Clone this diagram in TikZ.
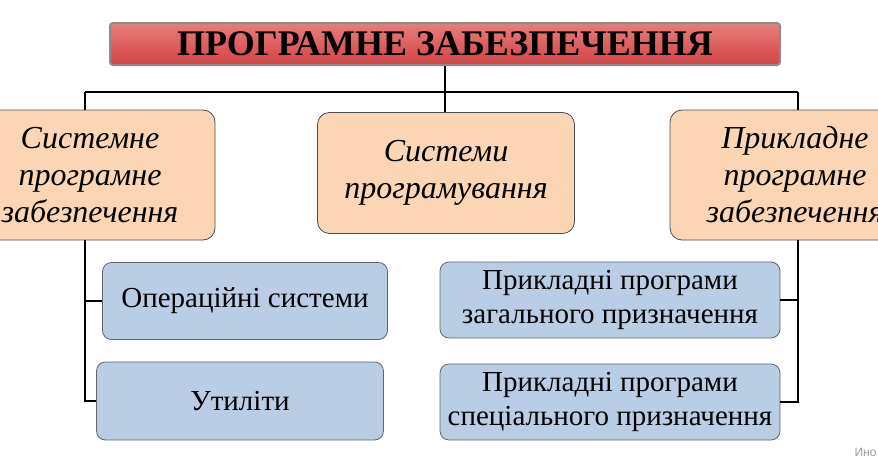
\documentclass[tikz,border=0pt]{standalone}
\usepackage{fontspec}
\setmainfont{Liberation Serif}
\newfontfamily\marksans{Liberation Sans}
\usetikzlibrary{positioning}
\definecolor{peach}{RGB}{252,213,181}
\definecolor{paleblue}{RGB}{185,205,229}
\definecolor{titlered}{RGB}{222,70,70}
\tikzset{
  topbox/.style={draw=black!70, thick, fill=peach, rounded corners=12pt, align=center,
    font=\fontsize{32}{37}\selectfont\itshape},
  subbox/.style={draw=black!60, thick, fill=paleblue, rounded corners=9pt, align=center,
    font=\fontsize{29}{34}\selectfont},
  link/.style={line width=2.2pt, black}
}
\begin{document}
\begin{tikzpicture}[x=1pt,y=-1pt]
\useasboundingbox (0,0) rectangle (878,461);
%title
\node[draw=black!45, line width=2pt, top color=titlered!70, bottom color=titlered!95!black,
  minimum width=670pt, minimum height=42pt, rounded corners=3pt,
  font=\fontsize{36}{40}\selectfont\bfseries] (title) at (445,44) {ПРОГРАМНЕ ЗАБЕЗПЕЧЕННЯ};
%top row
\node[topbox, minimum width=250pt, minimum height=130pt] (sys) at (90,175)
  {Системне\\програмне\\забезпечення};
\node[topbox, minimum width=257pt, minimum height=121pt] (prog) at (446,173)
  {Системи\\програмування};
\node[topbox, minimum width=250pt, minimum height=130pt] (app) at (795,175)
  {Прикладне\\програмне\\забезпечення};
%bottom row
\node[subbox, minimum width=285pt, minimum height=77pt] (os) at (245,301) {Операційні системи};
\node[subbox, minimum width=287pt, minimum height=78pt] (util) at (240,401) {Утиліти};
\node[subbox, minimum width=340pt, minimum height=76pt] (gen) at (610,300)
  {Прикладні програми\\загального призначення};
\node[subbox, minimum width=340pt, minimum height=76pt] (spec) at (610,402)
  {Прикладні програми\\спеціального призначення};
%connectors
\coordinate (bl) at (85,92);
\coordinate (br) at (798,92);
\draw[link] (bl) -- (br);
\draw[link] (bl) -- (bl |- sys.north);
\draw[link] (br) -- (br |- app.north);
\draw[link] (title.south) -- (title.south |- prog.north);
\draw[link] (bl |- sys.south) -- (bl |- util.west) -- (util.west);
\draw[link] (bl |- os.west) -- (os.west);
\draw[link] (br |- app.south) -- (br |- spec.east) -- (spec.east);
\draw[link] (br |- gen.east) -- (gen.east);
\node[text=black!40, font=\fontsize{12}{14}\selectfont\marksans, anchor=east] (mark) at (880,452) {Ино};
\end{tikzpicture}
\end{document}
